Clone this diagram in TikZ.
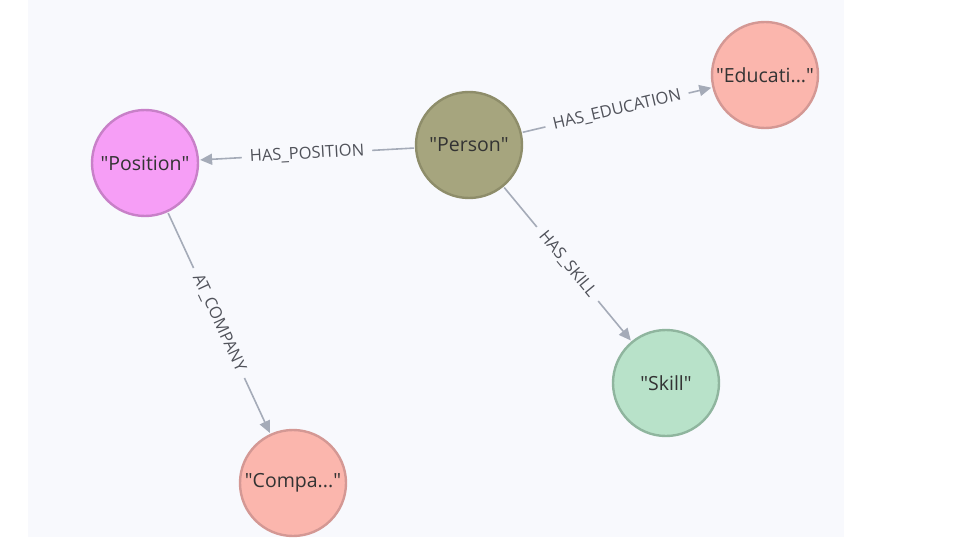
\documentclass[tikz,border=0pt]{standalone}
\usepackage{fontspec}
\setmainfont{Open Sans}
\usetikzlibrary{arrows.meta}

\definecolor{panel}{HTML}{F8F9FD}
\definecolor{edgecol}{HTML}{A5ABB8}
\definecolor{labelcol}{HTML}{50525A}

\newcommand\qname[1]{\textquotedbl#1\textquotedbl}

\tikzset{
    entity/.style={circle, minimum size=106pt, inner sep=0pt, line width=2.4pt,
        font=\fontsize{19.5}{22}\selectfont, text=black!80},
    rel/.style={draw=edgecol, line width=1.6pt, -{Triangle[length=12pt,width=11pt]},
        shorten >=1pt, shorten <=1pt},
    rellabel/.style={sloped, fill=panel, inner xsep=8pt, inner ysep=3pt, text=labelcol,
        font=\fontsize{16.5}{19}\selectfont}
}

\begin{document}
\begin{tikzpicture}[x=1pt,y=-1pt]

    \useasboundingbox (0,0) rectangle (960,540);
    \fill[panel] (28,0) rectangle (844,537);

    % nodes
    \node[entity, fill={rgb,255:red,166;green,165;blue,126}, draw={rgb,255:red,142;green,141;blue,106}]
        (person)    at (469,145) {\qname{Person}};
    \node[entity, fill={rgb,255:red,246;green,158;blue,246}, draw={rgb,255:red,200;green,128;blue,200}]
        (position)  at (145,163) {\qname{Position}};
    \node[entity, fill={rgb,255:red,251;green,182;blue,173}, draw={rgb,255:red,212;green,152;blue,148}]
        (education) at (765,75)  {\qname{Educati...}};
    \node[entity, fill={rgb,255:red,184;green,226;blue,201}, draw={rgb,255:red,143;green,181;blue,158}]
        (skill)     at (666,383) {\qname{Skill}};
    \node[entity, fill={rgb,255:red,251;green,182;blue,173}, draw={rgb,255:red,212;green,152;blue,148}]
        (company)   at (293,483) {\qname{Compa...}};

    % relations
    \draw[rel] (person)   -- node[rellabel] {HAS\_POSITION}  (position);
    \draw[rel] (person)   -- node[rellabel] {HAS\_EDUCATION} (education);
    \draw[rel] (person)   -- node[rellabel] {HAS\_SKILL}     (skill);
    \draw[rel] (position) -- node[rellabel] {AT\_COMPANY}    (company);

\end{tikzpicture}
\end{document}
